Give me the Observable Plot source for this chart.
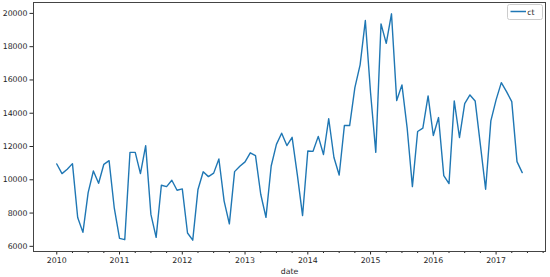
<!DOCTYPE html>
<html>
<head>
<meta charset="utf-8">
<script src="https://cdn.jsdelivr.net/npm/d3@7"></script>
<script src="https://cdn.jsdelivr.net/npm/@observablehq/plot@0.6"></script>
<style>
  html, body { margin: 0; padding: 0; background: #fff; }
  #chart svg { display: block; }
</style>
</head>
<body>
<div id="chart"></div>
<script>
// Monthly counts, Jan 2010 .. Jun 2017
const startYear = 2010;
const seriesName = "ct";
const ct = [
  10950, 10370, 10630, 10970, 7730, 6840, 9230, 10530, 9790, 10930, 11150, 8290,
  6480, 6400, 11650, 11650, 10370, 12055, 7920, 6540, 9670, 9590, 9970, 9370,
  9450, 6800, 6370, 9420, 10480, 10190, 10400, 11250, 8720, 7350, 10490, 10810,
  11075, 11620, 11450, 9130, 7740, 10830, 12130, 12800, 12055, 12550, 10290, 7850,
  11730, 11710, 12610, 11520, 13670, 11340, 10290, 13270, 13260, 15540, 16910, 19570,
  15230, 11650, 19370, 18200, 19975, 14760, 15705, 13100, 9590, 12900, 13100, 15040,
  12660, 13740, 10250, 9770, 14740, 12540, 14580, 15100, 14740, 12100, 9430, 13540,
  14800, 15840, 15300, 14700, 11090, 10430
];
const yearLabels = [2010, 2011, 2012, 2013, 2014, 2015, 2016, 2017];
const yTicks = [6000, 8000, 10000, 12000, 14000, 16000, 18000, 20000];

// month index since Jan of startYear (pandas-style evenly spaced periods)
const data = ct.map((v, i) => ({m: i, ct: v}));
const majorTicks = yearLabels.map(y => (y - startYear) * 12);
const minorTicks = d3.range(0, (yearLabels.length) * 12, 3).filter(m => m % 12 !== 0);

const xPad = (data.length - 1) * 0.05;
const [ymin, ymax] = d3.extent(ct);
const yPad = (ymax - ymin) * 0.05;

const ink = "#262626";
const chart = Plot.plot({
  width: 550,
  height: 277,
  marginLeft: 33,
  marginRight: 5,
  marginTop: 2,
  marginBottom: 26,
  style: {fontFamily: "DejaVu Sans, sans-serif", fontSize: "7.8px", color: ink, background: "#fff"},
  x: {type: "linear", domain: [-xPad, data.length - 1 + xPad]},
  y: {domain: [ymin - yPad, ymax + yPad]},
  marks: [
    Plot.line(data, {x: "m", y: "ct", stroke: "#1f77b4", strokeWidth: 1.4}),
    Plot.axisY(yTicks, {tickSize: 3.5, tickPadding: 2.5, label: null, stroke: ink,
      tickFormat: d => String(d)}),
    Plot.axisX(majorTicks, {tickSize: 3.5, tickPadding: 2.5, label: null, stroke: ink,
      tickFormat: d => String(startYear + d / 12)}),
    Plot.axisX(minorTicks, {tickSize: 2, label: null, stroke: ink, tickFormat: () => ""}),
    Plot.frame({stroke: "#444", strokeWidth: 1}),
    Plot.text(["date"], {frameAnchor: "bottom", lineAnchor: "bottom", dy: 22, fill: ink, fontSize: 7.8})
  ]
});

// legend box (matplotlib style, upper right)
const svg = d3.select(chart);
const lg = svg.append("g");
lg.append("rect").attr("x", 507.5).attr("y", 4.5).attr("width", 35).attr("height", 15)
  .attr("rx", 2).attr("fill", "#fff").attr("stroke", "#ccc").attr("stroke-width", 1);
lg.append("line").attr("x1", 510.5).attr("x2", 526).attr("y1", 11.5).attr("y2", 11.5)
  .attr("stroke", "#1f77b4").attr("stroke-width", 1.5);
lg.append("text").attr("x", 531).attr("y", 14.5).attr("fill", ink)
  .attr("font-family", "DejaVu Sans, sans-serif").attr("font-size", 7.8).text(seriesName);

document.getElementById("chart").appendChild(chart);
</script>
</body>
</html>
